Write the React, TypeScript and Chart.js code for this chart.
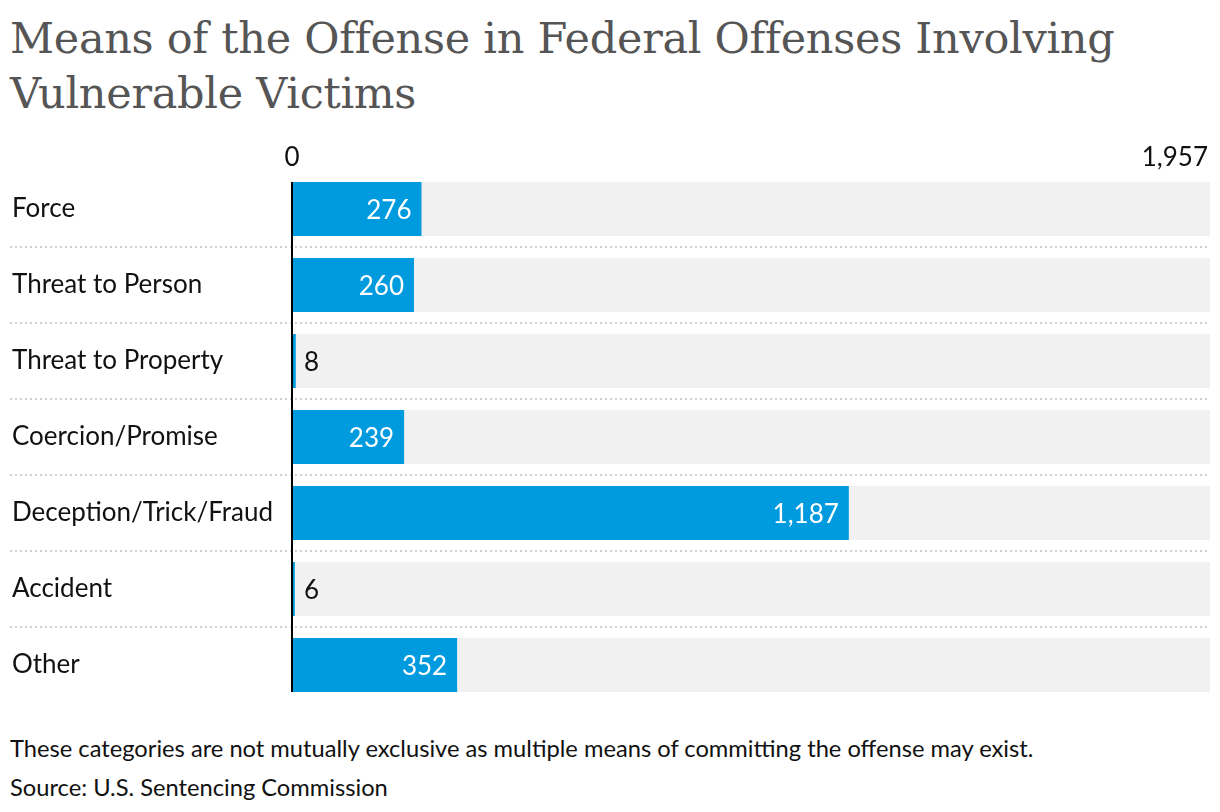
import React, { useEffect, useRef } from "react";
import { Chart, registerables } from "chart.js";

Chart.register(...registerables);

const categories = [
  "Force",
  "Threat to Person",
  "Threat to Property",
  "Coercion/Promise",
  "Deception/Trick/Fraud",
  "Accident",
  "Other",
];
const counts = [276, 260, 8, 239, 1187, 6, 352];
const axisMax = 1957;
const axisTickLabels = ["0", "1,957"];

const TITLE = "Means of the Offense in Federal Offenses Involving Vulnerable Victims";
const NOTE = "These categories are not mutually exclusive as multiple means of committing the offense may exist.";
const SOURCE = "Source: U.S. Sentencing Commission";

const BLUE = "#009ade";
const GREY = "#f1f1f1";
const FONT = "Lato, 'Noto Sans', sans-serif";

const overlayPlugin = {
  id: "overlay",
  beforeDatasetsDraw(chart: any) {
    const { ctx, chartArea, scales } = chart;
    const y = scales.y;
    ctx.save();
    ctx.strokeStyle = "#cfcfcf";
    ctx.lineWidth = 2;
    ctx.setLineDash([2, 3]);
    for (let i = 0; i < categories.length - 1; i++) {
      const py = Math.round((y.getPixelForValue(i) + y.getPixelForValue(i + 1)) / 2);
      ctx.beginPath();
      ctx.moveTo(10, py);
      ctx.lineTo(chartArea.right, py);
      ctx.stroke();
    }
    ctx.restore();
  },
  afterDatasetsDraw(chart: any) {
    const { ctx, chartArea, scales } = chart;
    const x = scales.x;
    const meta = chart.getDatasetMeta(1);
    ctx.save();
    ctx.font = `26px ${FONT}`;
    ctx.textBaseline = "middle";
    meta.data.forEach((bar: any, i: number) => {
      const label = counts[i].toLocaleString("en-US");
      const w = ctx.measureText(label).width;
      const barW = bar.x - bar.base;
      if (barW > w + 20) {
        ctx.fillStyle = "#ffffff";
        ctx.textAlign = "right";
        ctx.fillText(label, bar.x - 10, bar.y + 2);
      } else {
        ctx.fillStyle = "#111111";
        ctx.textAlign = "left";
        ctx.fillText(label, x.getPixelForValue(0) + 12, bar.y + 2);
      }
    });
    const first = meta.data[0];
    const last = meta.data[meta.data.length - 1];
    const x0 = x.getPixelForValue(0);
    ctx.strokeStyle = "#000";
    ctx.lineWidth = 2;
    ctx.beginPath();
    ctx.moveTo(x0, first.y - first.height / 2);
    ctx.lineTo(x0, last.y + last.height / 2);
    ctx.stroke();
    ctx.fillStyle = "#111111";
    ctx.textBaseline = "middle";
    ctx.textAlign = "center";
    ctx.fillText(axisTickLabels[0], x0, chartArea.top - 13);
    ctx.textAlign = "right";
    ctx.fillText(axisTickLabels[1], x.getPixelForValue(axisMax) - 2, chartArea.top - 13);
    ctx.restore();
  },
};

export default function App() {
  const canvasRef = useRef<HTMLCanvasElement | null>(null);

  useEffect(() => {
    document.body.style.margin = "0";
    const canvas = canvasRef.current;
    if (!canvas) return;
    const chart = new Chart(canvas, {
      type: "bar",
      data: {
        labels: categories,
        datasets: [
          {
            data: categories.map(() => axisMax),
            backgroundColor: GREY,
            grouped: false,
            order: 2,
            categoryPercentage: 54 / 76,
            barPercentage: 1,
          },
          {
            data: counts,
            backgroundColor: BLUE,
            grouped: false,
            order: 1,
            categoryPercentage: 54 / 76,
            barPercentage: 1,
          },
        ],
      },
      options: {
        indexAxis: "y",
        animation: false,
        responsive: false,
        maintainAspectRatio: false,
        layout: { padding: { left: 12, right: 10, top: 31, bottom: 17 } },
        plugins: {
          legend: { display: false },
          tooltip: { enabled: false },
          title: { display: false },
        },
        scales: {
          x: {
            display: false,
            min: 0,
            max: axisMax,
          },
          y: {
            type: "category",
            offset: true,
            grid: { display: false },
            border: { display: false },
            ticks: {
              crossAlign: "far",
              color: "#111111",
              font: { family: FONT, size: 26 },
              padding: 0,
            },
            afterFit(scale: any) {
              scale.width = 280;
            },
          },
        },
      },
      plugins: [overlayPlugin],
    });
    return () => chart.destroy();
  }, []);

  return (
    <div style={{ position: "relative", width: 1220, height: 812, background: "#fff", overflow: "hidden" }}>
      <div
        style={{
          position: "absolute",
          left: 10,
          top: 11,
          width: 1180,
          fontFamily: "'DejaVu Serif', serif",
          fontSize: 43,
          lineHeight: "55px",
          color: "#555555",
          letterSpacing: "-0.3px",
        }}
      >
        {TITLE}
      </div>
      <canvas
        ref={canvasRef}
        width={1220}
        height={580}
        style={{ position: "absolute", left: 0, top: 140, width: 1220, height: 580 }}
      />
      <div
        style={{
          position: "absolute",
          left: 10,
          top: 729,
          fontFamily: FONT,
          fontSize: 23.7,
          lineHeight: "39px",
          color: "#111111",
        }}
      >
        <div>{NOTE}</div>
        <div>{SOURCE}</div>
      </div>
    </div>
  );
}
